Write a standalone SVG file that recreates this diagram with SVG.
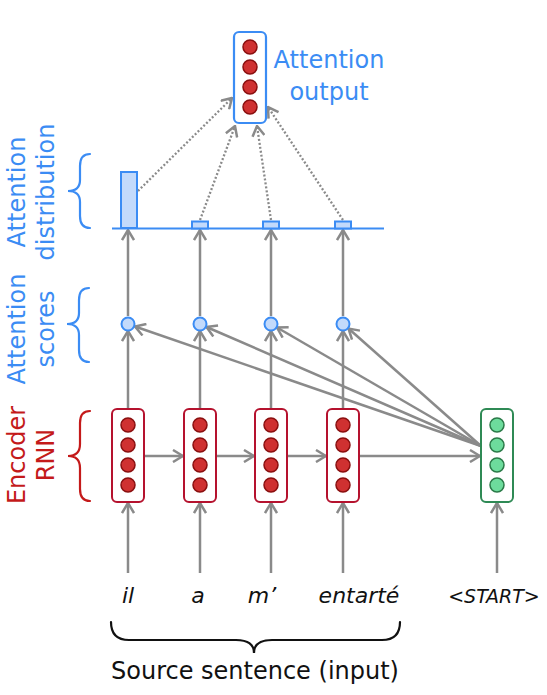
<svg xmlns="http://www.w3.org/2000/svg" width="547" height="695" viewBox="0 0 547 695">
<style>
text{font-family:"DejaVu Sans","Liberation Sans",sans-serif}
.blue{fill:#3b8cf4}
.red{fill:#c41a1a}
.lbl{font-size:24px;text-anchor:middle}
.word{font-size:22px;font-style:italic;text-anchor:middle;fill:#111}
.brace{fill:none;stroke-width:2.2;stroke-linecap:round}
.conn{stroke:#8a8a8a;stroke-width:2.5;fill:none;marker-end:url(#ah)}
.dot{stroke:#8a8a8a;stroke-width:2.3;fill:none;stroke-dasharray:2 2;marker-end:url(#ah)}
.enc{fill:#fff;stroke:#b5122e;stroke-width:2}
.encc{fill:#cf3131;stroke:#8a0f0f;stroke-width:1.5}
.dec{fill:#fff;stroke:#2f8a55;stroke-width:2}
.decc{fill:#6ddc9c;stroke:#2a7a48;stroke-width:1.5}
.sc{fill:#c3dafb;stroke:#3b8cf4;stroke-width:2}
.bar{fill:#c3dafb;stroke:#3b8cf4;stroke-width:2}
</style>
<defs>
<marker id="ah" viewBox="0 0 12 14" refX="11" refY="7" markerWidth="12" markerHeight="14" markerUnits="userSpaceOnUse" orient="auto">
<path d="M1,1 L11,7 L1,13" fill="none" stroke="#8a8a8a" stroke-width="2.5" stroke-dasharray="none"/>
</marker>
</defs>

<g id="connectors">
<line class="conn" x1="128" y1="573" x2="128" y2="503"/>
<line class="conn" x1="200" y1="573" x2="200" y2="503"/>
<line class="conn" x1="271" y1="573" x2="271" y2="503"/>
<line class="conn" x1="343" y1="573" x2="343" y2="503"/>
<line class="conn" x1="497" y1="573" x2="497" y2="503"/>
<line class="conn" x1="144" y1="456" x2="183" y2="456"/>
<line class="conn" x1="216" y1="456" x2="254" y2="456"/>
<line class="conn" x1="287" y1="456" x2="326" y2="456"/>
<line class="conn" x1="359" y1="456" x2="480" y2="456"/>
<line class="conn" x1="128" y1="409" x2="128" y2="331"/>
<line class="conn" x1="200" y1="409" x2="200" y2="331"/>
<line class="conn" x1="271" y1="409" x2="271" y2="331"/>
<line class="conn" x1="343" y1="409" x2="343" y2="331"/>
<line class="conn" x1="128" y1="316" x2="128" y2="230"/>
<line class="conn" x1="200" y1="316" x2="200" y2="230"/>
<line class="conn" x1="271" y1="316" x2="271" y2="230"/>
<line class="conn" x1="343" y1="316" x2="343" y2="230"/>
<line class="conn" x1="481" y1="446" x2="135" y2="326.5"/>
<line class="conn" x1="481" y1="446" x2="206.5" y2="327"/>
<line class="conn" x1="481" y1="446" x2="277" y2="327.5"/>
<line class="conn" x1="481" y1="446" x2="348.5" y2="328.5"/>
<line class="dot" x1="138" y1="191" x2="232" y2="98"/>
<line class="dot" x1="200" y1="220" x2="235" y2="126"/>
<line class="dot" x1="271" y1="220" x2="257" y2="126"/>
<line class="dot" x1="343" y1="220" x2="268" y2="107"/>
</g>

<g id="attention-output">
<rect x="234" y="32" width="32" height="91" rx="5" fill="#fff" stroke="#3b8cf4" stroke-width="2.2"/>
<circle class="encc" cx="250" cy="47" r="7"/>
<circle class="encc" cx="250" cy="67" r="7"/>
<circle class="encc" cx="250" cy="87" r="7"/>
<circle class="encc" cx="250" cy="107" r="7"/>
<text class="lbl blue" x="329" y="68">Attention</text>
<text class="lbl blue" x="329" y="100">output</text>
</g>

<g id="attention-distribution">
<line x1="112" y1="228.5" x2="384" y2="228.5" stroke="#3b8cf4" stroke-width="2.2"/>
<rect class="bar" x="121" y="172" width="16" height="56"/>
<rect class="bar" x="192" y="221.5" width="16" height="7"/>
<rect class="bar" x="263" y="221.5" width="16" height="7"/>
<rect class="bar" x="335" y="221.5" width="16" height="7"/>
</g>

<g id="attention-scores">
<circle class="sc" cx="128" cy="324" r="6.5"/>
<circle class="sc" cx="200" cy="324" r="6.5"/>
<circle class="sc" cx="271" cy="324" r="6.5"/>
<circle class="sc" cx="343" cy="324" r="6.5"/>
</g>

<g id="enc1">
<rect class="enc" x="112" y="409" width="32" height="93" rx="5"/>
<circle class="encc" cx="128" cy="425" r="7"/><circle class="encc" cx="128" cy="445" r="7"/><circle class="encc" cx="128" cy="465" r="7"/><circle class="encc" cx="128" cy="485" r="7"/>
</g>
<g id="enc2">
<rect class="enc" x="184" y="409" width="32" height="93" rx="5"/>
<circle class="encc" cx="200" cy="425" r="7"/><circle class="encc" cx="200" cy="445" r="7"/><circle class="encc" cx="200" cy="465" r="7"/><circle class="encc" cx="200" cy="485" r="7"/>
</g>
<g id="enc3">
<rect class="enc" x="255" y="409" width="32" height="93" rx="5"/>
<circle class="encc" cx="271" cy="425" r="7"/><circle class="encc" cx="271" cy="445" r="7"/><circle class="encc" cx="271" cy="465" r="7"/><circle class="encc" cx="271" cy="485" r="7"/>
</g>
<g id="enc4">
<rect class="enc" x="327" y="409" width="32" height="93" rx="5"/>
<circle class="encc" cx="343" cy="425" r="7"/><circle class="encc" cx="343" cy="445" r="7"/><circle class="encc" cx="343" cy="465" r="7"/><circle class="encc" cx="343" cy="485" r="7"/>
</g>
<g id="dec-start">
<rect class="dec" x="481" y="409" width="32" height="93" rx="5"/>
<circle class="decc" cx="497" cy="425" r="7"/><circle class="decc" cx="497" cy="445" r="7"/><circle class="decc" cx="497" cy="465" r="7"/><circle class="decc" cx="497" cy="485" r="7"/>
</g>

<g id="words">
<text class="word" x="128" y="603">il</text>
<text class="word" x="198" y="603">a</text>
<text class="word" x="262" y="603">m’</text>
<text class="word" x="359" y="603">entarté</text>
<text class="word" x="494" y="603" style="font-size:19px">&lt;START&gt;</text>
</g>

<g id="source-brace">
<path class="brace" stroke="#111" d="M111,622 Q111,640 129,640 L236,640 Q254,640 254,653 Q254,640 272,640 L382,640 Q400,640 400,622"/>
<text class="lbl" fill="#111" x="255" y="679">Source sentence (input)</text>
</g>

<g id="side-labels">
<path class="brace" stroke="#3b8cf4" d="M90,154 Q80,154 80,166 L80,180 Q80,191 68,191 Q80,191 80,202 L80,216 Q80,228 90,228"/>
<text class="lbl blue" transform="translate(25,192) rotate(-90)">Attention</text>
<text class="lbl blue" transform="translate(54,192) rotate(-90)">distribution</text>
<path class="brace" stroke="#3b8cf4" d="M89,288 Q79,288 79,300 L79,313 Q79,324 67,324 Q79,324 79,335 L79,350 Q79,362 89,362"/>
<text class="lbl blue" transform="translate(25,329) rotate(-90)">Attention</text>
<text class="lbl blue" transform="translate(54,329) rotate(-90)">scores</text>
<path class="brace" stroke="#c41a1a" d="M90,411 Q80,411 80,423 L80,444 Q80,456 68,456 Q80,456 80,468 L80,489 Q80,501 90,501"/>
<text class="lbl red" transform="translate(25,455) rotate(-90)">Encoder</text>
<text class="lbl red" transform="translate(54,455) rotate(-90)">RNN</text>
</g>
</svg>
